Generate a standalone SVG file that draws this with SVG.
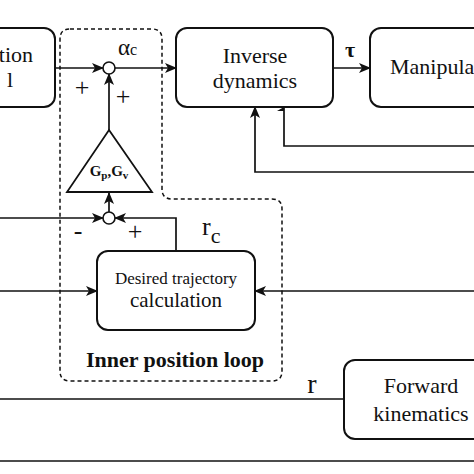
<svg xmlns="http://www.w3.org/2000/svg" width="474" height="474" viewBox="0 0 474 474" font-family="'Liberation Serif','Times New Roman',serif">
<style>
.box{fill:#fff;stroke:#111;stroke-width:2}
.ln{fill:none;stroke:#111;stroke-width:1.7}
.sum{fill:#fff;stroke:#111;stroke-width:1.6}
.t{font-family:"Liberation Serif","Times New Roman",serif;fill:#111}
.dash{fill:none;stroke:#111;stroke-width:1.5;stroke-dasharray:4 3}
</style>
<defs>
<marker id="ar" viewBox="0 0 12 10" refX="11" refY="5" markerWidth="12" markerHeight="10" markerUnits="userSpaceOnUse" orient="auto">
<path d="M0,0 L12,5 L0,10 L3,5 Z" fill="#111"/>
</marker>
</defs>
<rect width="474" height="474" fill="#fff"/>

<g id="inner-loop">
<path class="dash" d="M70,29 H152 Q162,29 162,39 V189 Q162,199 172,199 H272 Q282,199 282,209 V371 Q282,381 272,381 H70 Q60,381 60,371 V39 Q60,29 70,29 Z"/>
<text class="t" x="175" y="367" font-size="22" font-weight="bold" text-anchor="middle">Inner position loop</text>
</g>

<g id="connectors">
<line class="ln" x1="55" y1="68" x2="103" y2="68" marker-end="url(#ar)"/>
<line class="ln" x1="115" y1="68" x2="176" y2="68" marker-end="url(#ar)"/>
<line class="ln" x1="109" y1="130" x2="109" y2="74" marker-end="url(#ar)"/>
<line class="ln" x1="109" y1="212" x2="109" y2="193" marker-end="url(#ar)"/>
<line class="ln" x1="0" y1="218" x2="103" y2="218" marker-end="url(#ar)"/>
<polyline class="ln" points="176,251 176,218 115,218" marker-end="url(#ar)"/>
<line class="ln" x1="0" y1="291" x2="97" y2="291" marker-end="url(#ar)"/>
<line class="ln" x1="474" y1="291" x2="255" y2="291" marker-end="url(#ar)"/>
<line class="ln" x1="333" y1="68" x2="370" y2="68" marker-end="url(#ar)"/>
<polyline class="ln" points="474,172 255,172 255,107" marker-end="url(#ar)"/>
<polyline class="ln" points="474,146 284,146 284,108"/>
<path d="M284,107 L277,111 L284,111 Z" fill="#111"/>
<line class="ln" x1="0" y1="399" x2="344" y2="399"/>
<line class="ln" x1="0" y1="461" x2="474" y2="461"/>
</g>

<g id="position-control">
<rect class="box" x="-40" y="28" width="95" height="79" rx="11"/>
<text class="t" x="33" y="62" font-size="22" text-anchor="end">tion</text>
<text class="t" x="13" y="87" font-size="22" text-anchor="end">l</text>
</g>

<g id="sum-top">
<circle class="sum" cx="109" cy="68" r="6"/>
<text class="t" x="118" y="55" font-size="23">α<tspan font-size="16">c</tspan></text>
<text class="t" x="82" y="96" font-size="26" text-anchor="middle">+</text>
<text class="t" x="123" y="105" font-size="26" text-anchor="middle">+</text>
</g>

<g id="gain">
<polygon points="109,130 152,192 67,192" fill="#fff" stroke="#111" stroke-width="1.8"/>
<text class="t" x="109" y="176" font-size="15" font-weight="bold" text-anchor="middle">G<tspan font-size="11" dy="3">p</tspan><tspan dy="-3">,G</tspan><tspan font-size="11" dy="3">v</tspan></text>
</g>

<g id="sum-bottom">
<circle class="sum" cx="109" cy="218" r="6"/>
<text class="t" x="78" y="239" font-size="26" text-anchor="middle">-</text>
<text class="t" x="135" y="240" font-size="26" text-anchor="middle">+</text>
<text class="t" x="202" y="235" font-size="26">r<tspan font-size="22" dy="8">c</tspan></text>
</g>

<g id="inverse-dynamics">
<rect class="box" x="176" y="28" width="157" height="79" rx="11"/>
<text class="t" x="255" y="63" font-size="22" text-anchor="middle">Inverse</text>
<text class="t" x="255" y="88" font-size="22" text-anchor="middle">dynamics</text>
<text class="t" x="350" y="57" font-size="22" font-weight="bold" text-anchor="middle">τ</text>
</g>

<g id="manipulator">
<rect class="box" x="370" y="28" width="140" height="79" rx="11"/>
<text class="t" x="390" y="74" font-size="22">Manipula</text>
</g>

<g id="desired-trajectory">
<rect class="box" x="97" y="251" width="158" height="79" rx="11"/>
<text class="t" x="176" y="284" font-size="17" text-anchor="middle">Desired trajectory</text>
<text class="t" x="176" y="307" font-size="21" text-anchor="middle">calculation</text>
</g>

<g id="forward-kinematics">
<rect class="box" x="344" y="360" width="160" height="79" rx="11"/>
<text class="t" x="421" y="393" font-size="22" text-anchor="middle">Forward</text>
<text class="t" x="421" y="421" font-size="22" text-anchor="middle">kinematics</text>
<text class="t" x="312" y="393" font-size="28" text-anchor="middle">r</text>
</g>
</svg>
